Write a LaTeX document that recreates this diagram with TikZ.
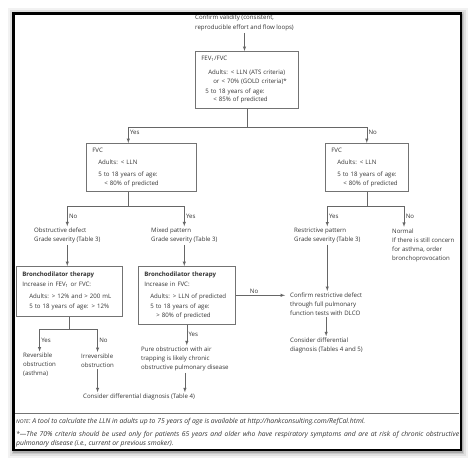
\documentclass[tikz,border=0pt]{standalone}
\usepackage{fontspec}
\setmainfont{Open Sans}
\usepackage{tikz}
\usetikzlibrary{calc, positioning}

\begin{document}
\begin{tikzpicture}[>=latex, x=1pt, y=-1pt,
    every node/.style={text=black!80, font=\fontsize{6.1}{8.5}\selectfont},
    box/.style={draw=black!55, line width=0.6pt, anchor=north west, align=left, inner xsep=6pt, inner ysep=0pt},
    txt/.style={anchor=west, align=left, inner xsep=0pt, inner ysep=1.5pt, font=\fontsize{6.1}{9}\selectfont},
    lbl/.style={right, inner sep=1.5pt},
    conn/.style={draw=black!60, line width=0.5pt},
    arr/.style={conn, ->}]
    \useasboundingbox (0,0) rectangle (474,466);
    \fill[white] (0,0) rectangle (474,466);
    % Khung va bong
    \foreach \s/\o in {7/0.05, 5/0.07, 3/0.1, 1.5/0.15}
        \fill[black, opacity=\o] ({14.5-\s},{15-\s}) rectangle ({461+\s},{451+\s});
    \fill[white] (13.5,13.5) rectangle (461,450);

    \begin{scope}
    \clip (14.6,14.6) rectangle (459.9,448.9);
    % Buoc dau
    \node[txt] (valid) at (195,23) {Confirm validity (consistent,\\[1pt]reproducible effort and flow loops)};
    \node[box, text width=91pt, minimum height=57pt] (fev) at (195,51) {%
        FEV\textsubscript{1}/FVC\\[5.5pt]
        \hspace*{7pt}Adults: < LLN (ATS criteria)\\
        \hspace*{12pt}or < 70\% (GOLD criteria)*\\[1.5pt]
        \hspace*{4pt}5 to 18 years of age:\\
        \hspace*{12pt}< 85\% of predicted};

    % Hai nhanh FVC
    \node[box, text width=98pt, minimum height=48pt] (fvcL) at (86,143) {%
        FVC\\[3.5pt]
        \hspace*{6pt}Adults: < LLN\\[3.5pt]
        \hspace*{6pt}5 to 18 years of age:\\
        \hspace*{12pt}< 80\% of predicted};
    \node[box, text width=71pt, minimum height=48pt] (fvcR) at (325,143) {%
        FVC\\[3.5pt]
        \hspace*{6pt}Adults: < LLN\\[3.5pt]
        \hspace*{6pt}5 to 18 years of age:\\
        \hspace*{12pt}< 80\% of predicted};

    \node[txt] (obs) at (34,235.5) {Obstructive defect\\Grade severity (Table 3)};
    \node[txt] (mix) at (151,235.5) {Mixed pattern\\Grade severity (Table 3)};
    \node[txt] (rest) at (294,235.5) {Restrictive pattern\\Grade severity (Table 3)};
    \node[txt] (norm) at (392,245) {Normal\\If there is still concern\\for asthma, order\\bronchoprovocation};

    % Thuoc gian phe quan
    \node[box, text width=94pt, minimum height=50pt] (bdL) at (16,266) {%
        \textbf{Bronchodilator therapy}\\[1.5pt]
        Increase in FEV\textsubscript{1} or FVC:\\[3.5pt]
        \hspace*{7pt}Adults: > 12\% and > 200 mL\\[1.5pt]
        \hspace*{7pt}5 to 18 years of age: > 12\%};
    \node[box, text width=85pt, minimum height=58pt] (bdM) at (138,266) {%
        \textbf{Bronchodilator therapy}\\[1.5pt]
        Increase in FVC:\\[3.5pt]
        \hspace*{6pt}Adults: > LLN of predicted\\[1.5pt]
        \hspace*{6pt}5 to 18 years of age:\\
        \hspace*{12pt}> 80\% of predicted};

    \node[txt] (crd) at (290,304) {Confirm restrictive defect\\through full pulmonary\\function tests with DLCO};
    \node[txt] (cdd2) at (290,345.5) {Consider differential\\diagnosis (Tables 4 and 5)};
    \node[txt] (rev) at (23,365) {Reversible\\obstruction\\(asthma)};
    \node[txt] (irr) at (81,360.5) {Irreversible\\obstruction};
    \node[txt] (pure) at (141,359) {Pure obstruction with air\\trapping is likely chronic\\obstructive pulmonary disease};
    \node[txt] (cdd) at (83,397) {Consider differential diagnosis (Table 4)};

    % Mui ten
    \draw[arr] (valid.south) -- (valid.south |- fev.north);
    \draw[conn] (fev.south) -- ++(0,19) coordinate (forkA);
    \draw[arr] (forkA) -| ([xshift=-13pt]fvcL.north) node[lbl, pos=0.66] (yA) {Yes};
    \draw[arr] (forkA) -| (fvcR.north) node[lbl, pos=0.66] (nA) {No};

    \draw[conn] ([xshift=-13pt]fvcL.south) -- ++(0,15) coordinate (forkB);
    \draw[arr] (forkB) -| (obs.north) node[lbl, pos=0.74] (nB) {No};
    \draw[arr] (forkB) -| (mix.north) node[lbl, pos=0.74] (yB) {Yes};

    \draw[conn] (fvcR.south) -- ++(0,15) coordinate (forkC);
    \draw[arr] (forkC) -| (rest.north) node[lbl, pos=0.74] (yC) {Yes};
    \draw[arr] (forkC) -| ([xshift=12pt]norm.north west) node[lbl, pos=0.74] (nC) {No};

    \draw[arr] (obs.south) -- (obs.south |- bdL.north);
    \draw[arr] (mix.south) -- (mix.south |- bdM.north);
    \draw[arr] (rest.south) -- (rest.south |- crd.north);
    \draw[arr, shorten >=5pt] (bdM.east) -- (bdM.east -| crd.west) node[above, inner sep=1.5pt, pos=0.34] (nD) {No};

    \draw[conn] (bdL.south) -- ++(0,13) coordinate (forkD);
    \draw[arr] (forkD) -| (rev.north) node[lbl, pos=0.74] (yD) {Yes};
    \draw[arr] (forkD) -| (irr.north) node[lbl, pos=0.74] (nE) {No};
    \draw[arr] (bdM.south) -- (bdM.south |- pure.north) node[lbl, pos=0.45] (yE) {Yes};

    \draw[arr] (irr.south) -- (irr.south |- cdd.north);
    \draw[arr] (pure.south) -- (pure.south |- cdd.north);
    \draw[arr] (crd.south) -- (crd.south |- cdd2.north);

    % Ghi chu
    \draw[black!55, line width=0.6pt] (15,413) -- (459,413);
    \node[anchor=north west, align=justify, text width=443pt, inner sep=0pt,
          font=\fontsize{6.8}{9}\selectfont\itshape] (note) at (16,418.5) {%
        {\fontsize{5.2}{9}\selectfont NOTE}: A tool to calculate the LLN in adults up to 75 years of age is available at http://hankconsulting.com/RefCal.html.\\[4pt]
        *---The 70\% criteria should be used only for patients 65 years and older who have respiratory symptoms and are at risk of chronic obstructive\linebreak
        pulmonary disease (i.e., current or previous smoker).};
    \end{scope}

    \draw[line width=2.2pt] (13.5,13.5) rectangle (461,450);
\end{tikzpicture}
\end{document}
